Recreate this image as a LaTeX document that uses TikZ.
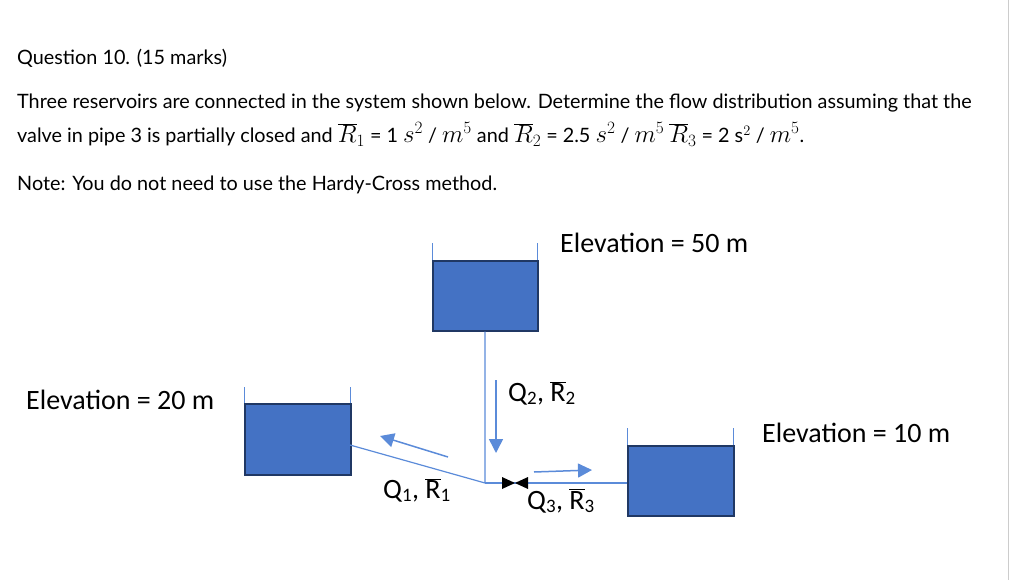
\documentclass[tikz,border=0pt]{standalone}
\usepackage{fontspec}
\setmainfont{Lato}
\newfontfamily\calib{Carlito}
\usetikzlibrary{arrows.meta}
\definecolor{tankblue}{HTML}{4472C4}
\definecolor{tankedge}{HTML}{203864}
\definecolor{pipe}{HTML}{5B8BD9}
\newcommand{\sbx}[1]{\mbox{\calib\fontsize{19}{20}\selectfont #1}}
\newcommand{\mylabel}[1]{Q$_{\sbx{#1}}$, $\overline{\mbox{R}}_{\sbx{#1}}$}
\newcommand{\bm}[1]{{\fontsize{23.5}{24}\selectfont$#1$}}
\begin{document}
\begin{tikzpicture}[x=1pt,y=-1pt,
  txt/.style={anchor=base west,inner sep=0pt,font=\fontsize{19.8}{24}\selectfont},
  lbl/.style={inner sep=0pt,font=\calib\fontsize{28}{32}\selectfont},
  tank/.style={fill=tankblue,draw=tankedge,line width=1.5pt},
  wall/.style={draw=pipe,line width=1pt},
  pipeline/.style={draw=pipe,line width=1.2pt},
  flow/.style={draw=pipe,line width=1.5pt,-{Triangle[length=14pt,width=14pt]}}]
\useasboundingbox (0,0) rectangle (1011,580);
\draw[gray!40,line width=1pt] (1008,0) -- (1008,580);
\node[txt] (t1) at (17,65) {Question 10. (15 marks)};
\node[txt] (t2) at (17,109) {Three reservoirs are connected in the system shown below. Determine the flow distribution assuming that the};
\node[txt] (t3) at (17,143) {valve in pipe 3 is partially closed and \bm{\overline{R}_1} = 1 \bm{s^2} / \bm{m^5} and \bm{\overline{R}_2} = 2.5 \bm{s^2} / \bm{m^5} \bm{\overline{R}_3} = 2 s$^2$ / \bm{m^5}.};
\node[txt] (t4) at (17,190) {Note: You do not need to use the Hardy-Cross method.};
% tanks
\draw[wall] (432,243) -- (432,260) (537,243) -- (537,260);
\node[tank,minimum width=105pt,minimum height=70pt,anchor=north west] (top) at (432,260) {};
\draw[wall] (244,387) -- (244,403) (350,387) -- (350,403);
\node[tank,minimum width=106pt,minimum height=71pt,anchor=north west] (left) at (244,403) {};
\draw[wall] (627,428) -- (627,445) (733,428) -- (733,445);
\node[tank,minimum width=106pt,minimum height=70pt,anchor=north west] (right) at (627,445) {};
% pipes
\coordinate (j) at (485,483);
\coordinate (l) at (350,445);
\draw[pipeline] (top.south -| j) -- (j) -- (l);
\draw[pipeline] (j) -- (right.west |- j);
% valve
\coordinate (v) at (515,483);
\fill (v) -- (502,477) -- (502,489) -- cycle;
\fill (v) -- (528,477) -- (528,489) -- cycle;
% flow arrows
\coordinate (a1) at (496,380); \coordinate (a2) at (496,453);
\draw[flow] (a1) -- (a2);
\coordinate (b1) at (448,457); \coordinate (b2) at (380,436);
\draw[flow] (b1) -- (b2);
\coordinate (c1) at (534,472); \coordinate (c2) at (592,470);
\draw[flow] (c1) -- (c2);
% labels
\node[lbl,anchor=west] (q2) at (508,393) {\mylabel{2}};
\node[lbl,anchor=west] (q1) at (383,490) {\mylabel{1}};
\node[lbl,anchor=west] (q3) at (527,501) {\mylabel{3}};
\node[lbl,anchor=west] (e50) at (560,243) {Elevation = 50 m};
\node[lbl,anchor=west] (e20) at (26,400) {Elevation = 20 m};
\node[lbl,anchor=west] (e10) at (762,433) {Elevation = 10 m};
\end{tikzpicture}
\end{document}
